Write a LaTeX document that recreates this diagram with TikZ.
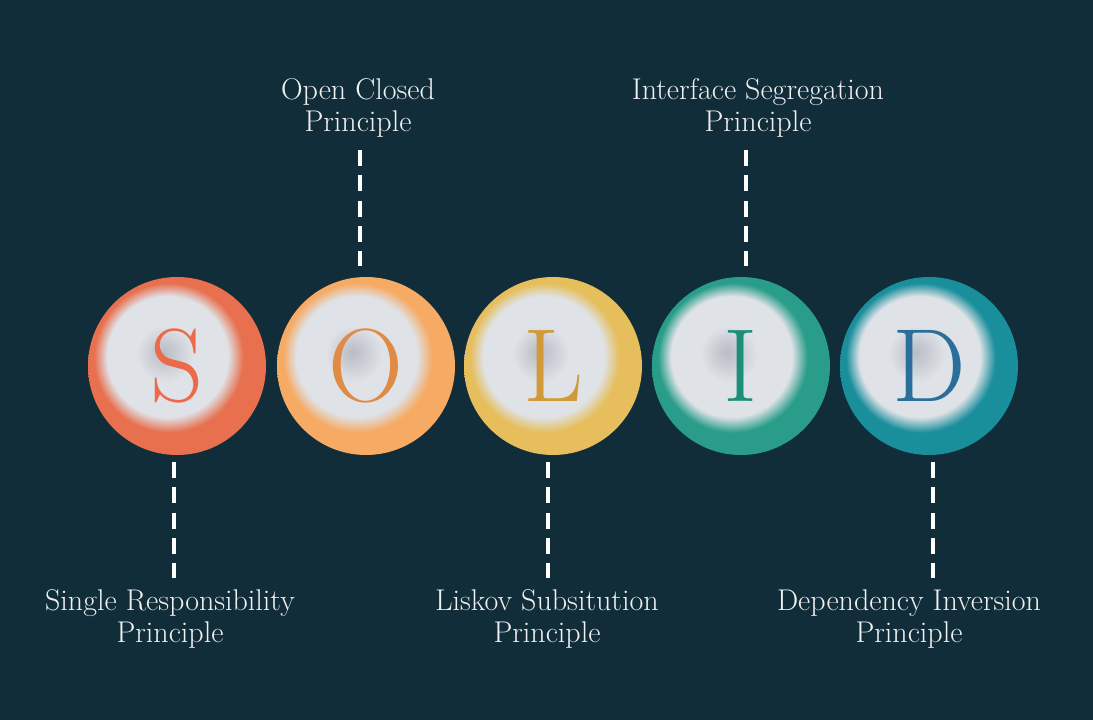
\documentclass[tikz,border=0pt]{standalone}
\usetikzlibrary{calc}
\definecolor{bg}{HTML}{112D3A}
\definecolor{gA}{HTML}{B8BCC3}
\definecolor{gB}{HTML}{DFE2E7}
\definecolor{rS}{HTML}{E8704F}\definecolor{lS}{HTML}{EC6A4A}
\definecolor{rO}{HTML}{F6AA64}\definecolor{lO}{HTML}{E08A45}
\definecolor{rL}{HTML}{E6BE5C}\definecolor{lL}{HTML}{D09A38}
\definecolor{rI}{HTML}{2A9D8A}\definecolor{lI}{HTML}{1E8E7C}
\definecolor{rD}{HTML}{1A8F9C}\definecolor{lD}{HTML}{2A6E9A}
\definecolor{txt}{HTML}{F0F0F0}
\newcommand{\mkshade}[1]{\pgfdeclareradialshading{ball#1}{\pgfpoint{-4bp}{4bp}}{color(0bp)=(gA);color(8bp)=(gB);color(17bp)=(gB);color(21bp)=(r#1);color(25bp)=(r#1);color(50bp)=(r#1)}}
\mkshade{S}\mkshade{O}\mkshade{L}\mkshade{I}\mkshade{D}
\begin{document}
\begin{tikzpicture}[x=0.75pt,y=-0.75pt,
  ball/.style={circle,minimum size=178*0.75pt,inner sep=0pt,shading=ball#1,text=l#1,font=\fontsize{78}{78}\selectfont},
  lbl/.style={text=txt,align=center,font=\fontsize{22.5}{24}\selectfont},
  dline/.style={draw=white,line width=2.4pt,dash pattern=on 12pt off 7pt}]
\fill[bg] (0,0) rectangle (1093,720);
\useasboundingbox (0,0) rectangle (1093,720);
\node[ball=S] (S) at (177,366) {S};
\node[ball=O] (O) at (366,366) {O};
\node[ball=L] (L) at (553,366) {L};
\node[ball=I] (I) at (741,366) {I};
\node[ball=D] (D) at (929,366) {D};
\node[lbl] (tO) at (358,108) {Open Closed\\Principle};
\node[lbl] (tI) at (758,108) {Interface Segregation\\Principle};
\node[lbl] (tS) at (170,619) {Single Responsibility\\Principle};
\node[lbl] (tL) at (547,619) {Liskov Subsitution\\Principle};
\node[lbl] (tD) at (909,619) {Dependency Inversion\\Principle};
\coordinate (aO) at (360,150); \coordinate (bO) at (360,266);
\coordinate (aI) at (746,150); \coordinate (bI) at (746,266);
\coordinate (aS) at (174,462); \coordinate (bS) at (174,578);
\coordinate (aL) at (548,462); \coordinate (bL) at (548,578);
\coordinate (aD) at (933,462); \coordinate (bD) at (933,578);
\foreach \k in {O,I,S,L,D}{\draw[dline] (a\k) -- (b\k);}
\end{tikzpicture}
\end{document}
